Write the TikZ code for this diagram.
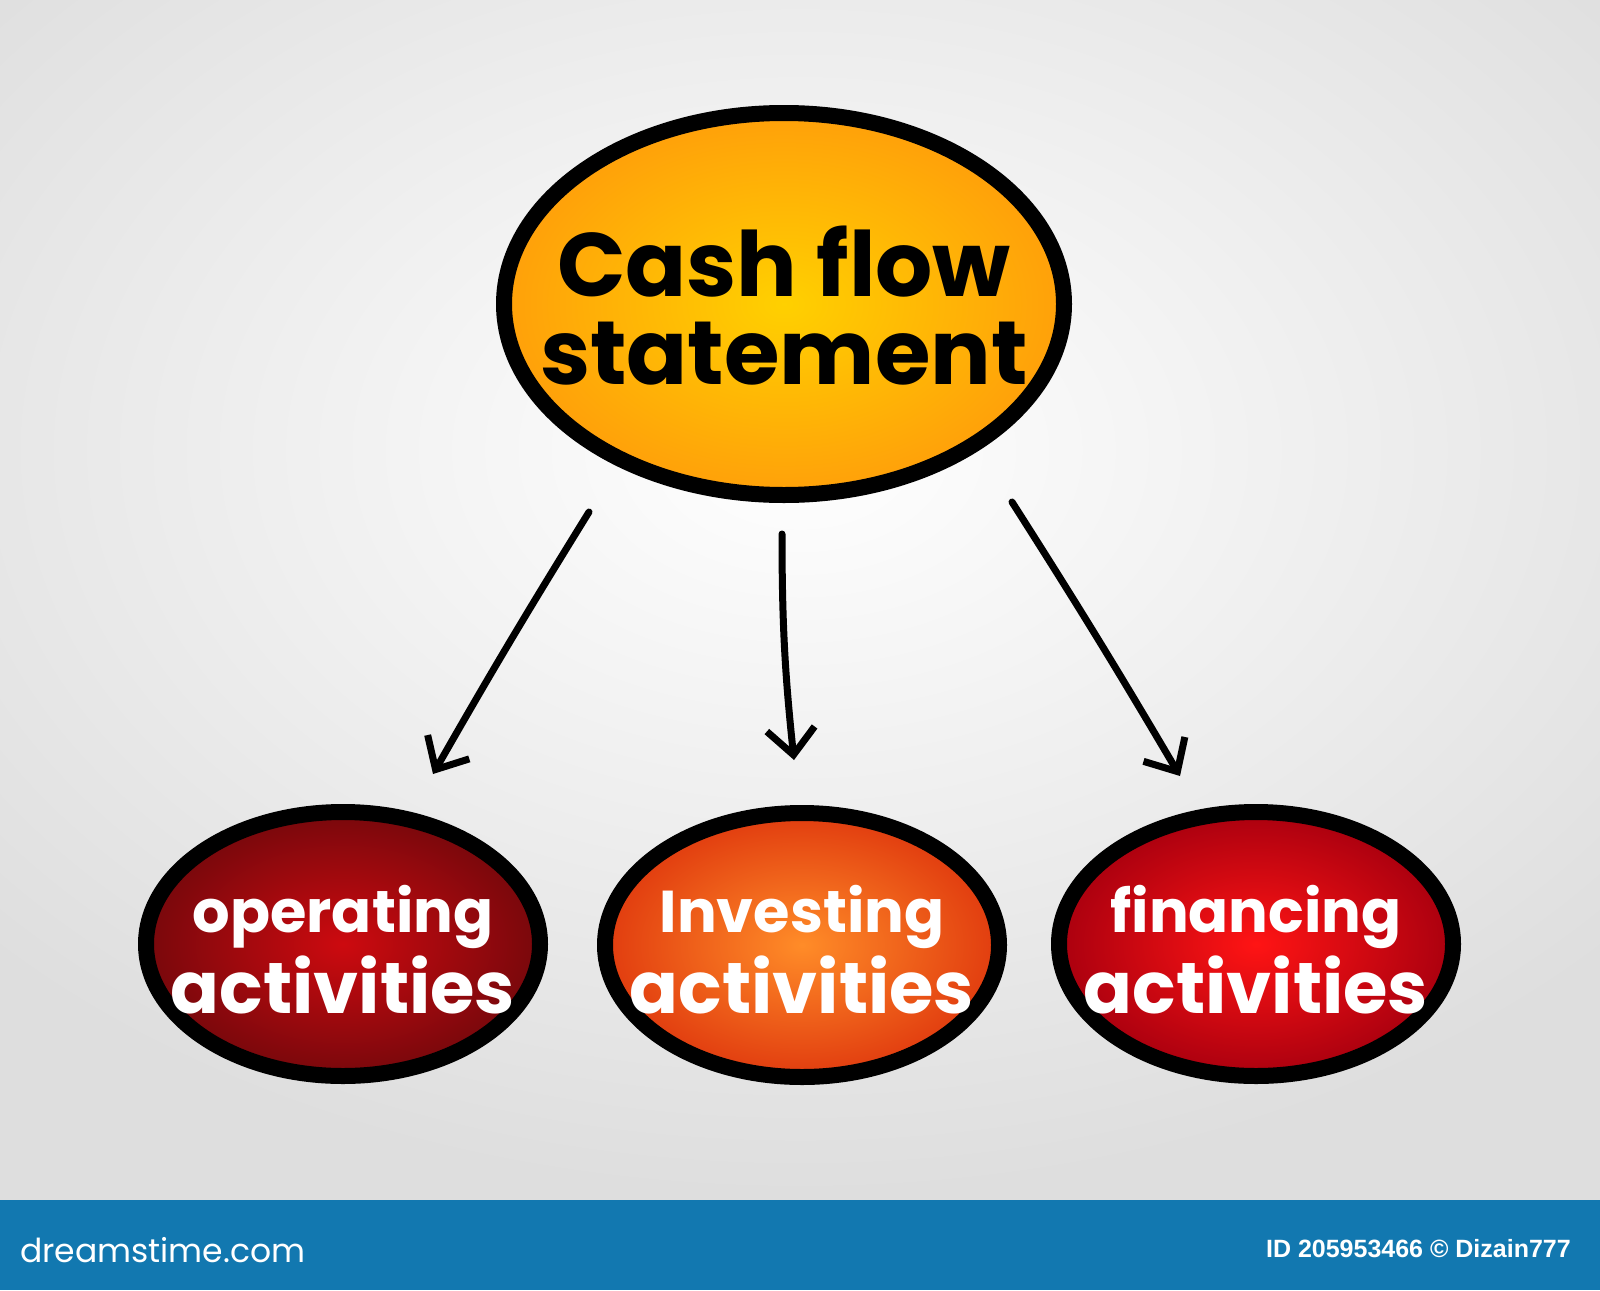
\documentclass[tikz,border=0pt]{standalone}
\usepackage{fontspec}
\setmainfont{Poppins}
\newfontfamily\barfont{Liberation Sans}
\usetikzlibrary{shapes.geometric,arrows.meta}
\definecolor{barblue}{RGB}{18,120,176}
\definecolor{ylin}{RGB}{255,208,0}
\definecolor{ylout}{RGB}{255,160,10}
\definecolor{opin}{RGB}{205,10,15}
\definecolor{opout}{RGB}{120,8,12}
\definecolor{ivin}{RGB}{255,140,40}
\definecolor{ivout}{RGB}{225,60,15}
\definecolor{fiin}{RGB}{255,20,20}
\definecolor{fiout}{RGB}{170,0,15}
\tikzset{
  bubble/.style={ellipse, draw=black, line width=16pt, inner sep=0pt},
  topbubble/.style={bubble, minimum width=560pt, minimum height=382pt,
     inner color=ylin, outer color=ylout},
  subbubble/.style={bubble, minimum width=394pt, minimum height=264pt},
  arr/.style={line width=7pt, line cap=round, -{Straight Barb[length=26pt,width=48pt,line width=7pt]}},
  toptext/.style={font=\bfseries\fontsize{90}{84}\selectfont, text=black, align=center},
  subtext/.style={text=white, align=center, font=\bfseries},
}
\newcommand{\firstline}[1]{{\fontsize{59}{59}\selectfont #1}}
\newcommand{\secondline}[1]{{\fontsize{72}{72}\selectfont #1}}
\begin{document}
\begin{tikzpicture}[x=1pt,y=-1pt]
\useasboundingbox (0,0) rectangle (1600,1290);
% background
\shade[inner color=white, outer color=black!13] (-300,-300) rectangle (1900,1200);
\fill[barblue] (0,1200) rectangle (1600,1290);
\node[anchor=west, text=white, font=\fontsize{33}{33}\selectfont, inner sep=0pt] (brand) at (20,1250) {dreamstime.com};
\node[anchor=east, text=white, font=\barfont\bfseries\fontsize{25}{25}\selectfont, inner sep=0pt] (credit) at (1571,1249) {ID 205953466 © Dizain777};

% nodes
\node[topbubble] (top) at (784,304) {};
\node[toptext] (toplabel) at (784,306) {Cash flow\\[4pt]statement};

\node[subbubble, inner color=opin, outer color=opout] (op) at (343,944) {};
\node[subtext] (oplabel) at (343,950) {\firstline{operating}\\[6pt]\secondline{activities}};

\node[subbubble, inner color=ivin, outer color=ivout] (iv) at (802,945) {};
\node[subtext] (ivlabel) at (802,950) {\firstline{Investing}\\[6pt]\secondline{activities}};

\node[subbubble, inner color=fiin, outer color=fiout] (fi) at (1256,944) {};
\node[subtext] (filabel) at (1256,950) {\firstline{financing}\\[6pt]\secondline{activities}};

% arrow end points
\coordinate (a1s) at (589,512);
\coordinate (a1e) at (433,774);
\coordinate (a2s) at (782,534);
\coordinate (a2e) at (794,760);
\coordinate (a3s) at (1012,502);
\coordinate (a3e) at (1180,776);

\draw[arr] (a1s) to[bend right=1] (a1e);
\draw[arr] (a2s) to[bend right=3] (a2e);
\draw[arr] (a3s) to[bend left=1] (a3e);
\end{tikzpicture}
\end{document}
